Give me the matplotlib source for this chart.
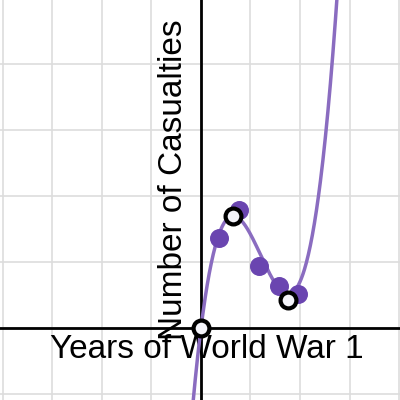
import numpy as np
import matplotlib
matplotlib.use("Agg")
import matplotlib.pyplot as plt

pts_x = [0.36, 0.77, 1.17, 1.58, 1.96]
pts_y = [1.36, 1.79, 0.94, 0.64, 0.52]
open_x = [0.0, 0.65, 1.76]
open_y = [0.0, 1.70, 0.42]
coef = [1.738, -6.283, 5.965, 0.0]  # cubic coefficients

fig = plt.figure(figsize=(4, 4), dpi=100)
ax = fig.add_axes([0, 0, 1, 1])
x0, x1, y0, y1 = -4.06, 4.02, -1.09, 4.97
ax.set_xlim(x0, x1); ax.set_ylim(y0, y1)
for gx in np.arange(-4, 5, 1):
    ax.axvline(gx, color='#dddddd', lw=1.2, zorder=0)
for gy in np.arange(-1, 6, 1):
    ax.axhline(gy, color='#dddddd', lw=1.2, zorder=0)
ax.axvline(0, color='black', lw=2, zorder=1)
ax.axhline(0, color='black', lw=2, zorder=1)
xs = np.linspace(x0, x1, 800)
ax.plot(xs, np.polyval(coef, xs), color='#8a6cc0', lw=2.5, zorder=3)
ax.scatter(pts_x, pts_y, s=160, color='#6a45b0', zorder=4)
ax.scatter(open_x, open_y, s=130, facecolor='#f4f4fa', edgecolor='black', lw=3, zorder=5)
ax.text(207/400, 1-350/400, 'Years of World War 1', transform=ax.transAxes,
        ha='center', va='center', fontsize=24, family='Liberation Sans', zorder=2)
ax.text(174/400, 1-180/400, 'Number of Casualties', transform=ax.transAxes,
        ha='center', va='center', rotation=90, fontsize=24, family='Liberation Sans', zorder=2)
ax.axis('off')
fig.savefig('out.png', dpi=100)
